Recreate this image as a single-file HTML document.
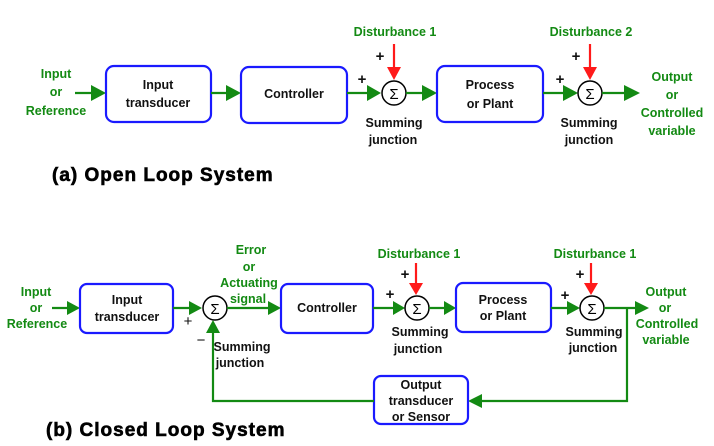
<!DOCTYPE html>
<html><head><style>
body{margin:0;background:#fff;}
svg{display:block;font-family:"Liberation Sans",Arial,sans-serif;font-weight:bold;}
.g{fill:#138a13;font-size:12.5px;}
.k{fill:#111;font-size:12.5px;}
.b{fill:#fff;stroke:#1a1aff;stroke-width:2.2;}
.l{stroke:#138a13;stroke-width:2.2;fill:none;}
.r{stroke:#ff1a1a;stroke-width:2.2;}
.c{fill:#fff;stroke:#000;stroke-width:1.5;}
.t{font-size:19px;fill:#000;stroke:#000;stroke-width:0.6;letter-spacing:1px;}
</style></head><body>
<svg width="714" height="446" viewBox="0 0 714 446">
<!-- TOP -->
<g text-anchor="middle">
<text class="g" x="56" y="78">Input</text><text class="g" x="56" y="96">or</text><text class="g" x="56" y="115">Reference</text>
<path d="M75,93 H95" class="l"/><path d="M91,85 L106,93 L91,101z" fill="#138a13"/>
<rect class="b" x="106" y="66" width="105" height="56" rx="8"/>
<text class="k" x="158" y="89">Input</text><text class="k" x="158" y="107">transducer</text>
<path d="M211,93 H228" class="l"/><path d="M226,85 L241,93 L226,101z" fill="#138a13"/>
<rect class="b" x="241" y="67" width="106" height="56" rx="8"/>
<text class="k" x="294" y="98">Controller</text>
<path d="M347,93 H370" class="l"/><path d="M367,85 L381,93 L367,101z" fill="#138a13"/>
<text class="k" x="362" y="84" style="font-size:15px">+</text>
<circle class="c" cx="394" cy="93" r="12"/><text x="394" y="99" style="font-size:15px;font-weight:normal">Σ</text>
<path d="M394,44 V70" class="r"/><path d="M387,67 L401,67 L394,80z" fill="#ff1a1a"/>
<text class="k" x="380" y="61" style="font-size:15px">+</text>
<text class="g" x="395" y="36">Disturbance 1</text>
<text class="k" x="394" y="127">Summing</text><text class="k" x="393" y="144">junction</text>
<path d="M406,93 H424" class="l"/><path d="M422,85 L437,93 L422,101z" fill="#138a13"/>
<rect class="b" x="437" y="66" width="106" height="56" rx="8"/>
<text class="k" x="490" y="89">Process</text><text class="k" x="490" y="108">or Plant</text>
<path d="M543,93 H566" class="l"/><path d="M563,85 L578,93 L563,101z" fill="#138a13"/>
<text class="k" x="560" y="84" style="font-size:15px">+</text>
<circle class="c" cx="590" cy="93" r="12"/><text x="590" y="99" style="font-size:15px;font-weight:normal">Σ</text>
<path d="M590,44 V70" class="r"/><path d="M583,67 L597,67 L590,80z" fill="#ff1a1a"/>
<text class="k" x="576" y="61" style="font-size:15px">+</text>
<text class="g" x="591" y="36">Disturbance 2</text>
<text class="k" x="589" y="127">Summing</text><text class="k" x="589" y="144">junction</text>
<path d="M602,93 H626" class="l"/><path d="M624,85 L640,93 L624,101z" fill="#138a13"/>
<text class="g" x="672" y="81">Output</text><text class="g" x="672" y="99">or</text><text class="g" x="672" y="117">Controlled</text><text class="g" x="672" y="135">variable</text>
</g>
<text class="t" x="52" y="181">(a) Open Loop System</text>

<!-- BOTTOM -->
<g text-anchor="middle">
<text class="g" x="36" y="296">Input</text><text class="g" x="36" y="312">or</text><text class="g" x="37" y="328">Reference</text>
<path d="M52,308 H70" class="l"/><path d="M67,301 L80,308 L67,315z" fill="#138a13"/>
<rect class="b" x="80" y="284" width="93" height="49" rx="7"/>
<text class="k" x="127" y="304">Input</text><text class="k" x="127" y="321">transducer</text>
<path d="M173,308 H192" class="l"/><path d="M189,301 L202,308 L189,315z" fill="#138a13"/>
<text class="k" x="188" y="326" style="font-size:15px;font-weight:normal">+</text>
<text class="k" x="201" y="345" style="font-size:15px;font-weight:normal">−</text>
<circle class="c" cx="215" cy="308" r="12"/><text x="215" y="314" style="font-size:15px;font-weight:normal">Σ</text>
<text class="g" x="251" y="254">Error</text><text class="g" x="249" y="271">or</text><text class="g" x="249" y="287">Actuating</text><text class="g" x="248" y="303">signal</text>
<path d="M227,308 H270" class="l"/><path d="M268,301 L281,308 L268,315z" fill="#138a13"/>
<rect class="b" x="281" y="284" width="92" height="49" rx="7"/>
<text class="k" x="327" y="312">Controller</text>
<text class="k" x="242" y="351">Summing</text><text class="k" x="240" y="367">junction</text>
<path d="M373,308 H396" class="l"/><path d="M393,301 L405,308 L393,315z" fill="#138a13"/>
<text class="k" x="390" y="299" style="font-size:15px">+</text>
<circle class="c" cx="417" cy="308" r="12"/><text x="417" y="314" style="font-size:15px;font-weight:normal">Σ</text>
<path d="M416,263 V285" class="r"/><path d="M409,283 L423,283 L416,295z" fill="#ff1a1a"/>
<text class="k" x="405" y="279" style="font-size:15px">+</text>
<text class="g" x="419" y="258">Disturbance 1</text>
<text class="k" x="420" y="336">Summing</text><text class="k" x="418" y="353">junction</text>
<path d="M429,308 H446" class="l"/><path d="M444,301 L456,308 L444,315z" fill="#138a13"/>
<rect class="b" x="456" y="283" width="95" height="49" rx="7"/>
<text class="k" x="503" y="304">Process</text><text class="k" x="503" y="320">or Plant</text>
<path d="M551,308 H570" class="l"/><path d="M567,301 L580,308 L567,315z" fill="#138a13"/>
<text class="k" x="565" y="300" style="font-size:15px">+</text>
<circle class="c" cx="592" cy="308" r="12"/><text x="592" y="314" style="font-size:15px;font-weight:normal">Σ</text>
<path d="M591,263 V285" class="r"/><path d="M584,283 L598,283 L591,295z" fill="#ff1a1a"/>
<text class="k" x="580" y="279" style="font-size:15px">+</text>
<text class="g" x="595" y="258">Disturbance 1</text>
<text class="k" x="594" y="336">Summing</text><text class="k" x="593" y="352">junction</text>
<path d="M604,308 H637" class="l"/><path d="M635,301 L649,308 L635,315z" fill="#138a13"/>
<text class="g" x="666" y="296">Output</text><text class="g" x="665" y="312">or</text><text class="g" x="667" y="328">Controlled</text><text class="g" x="666" y="344">variable</text>
<path d="M627,308 V401 H480" class="l"/><path d="M482,394 L468,401 L482,408z" fill="#138a13"/>
<rect class="b" x="374" y="376" width="94" height="48" rx="7"/>
<text class="k" x="421" y="389">Output</text><text class="k" x="421" y="405">transducer</text><text class="k" x="421" y="421">or Sensor</text>
<path d="M374,401 H213 V330" class="l"/><path d="M206,333 L213,320 L220,333z" fill="#138a13"/>
</g>
<text class="t" x="46" y="436">(b) Closed Loop System</text>
</svg>
</body></html>
